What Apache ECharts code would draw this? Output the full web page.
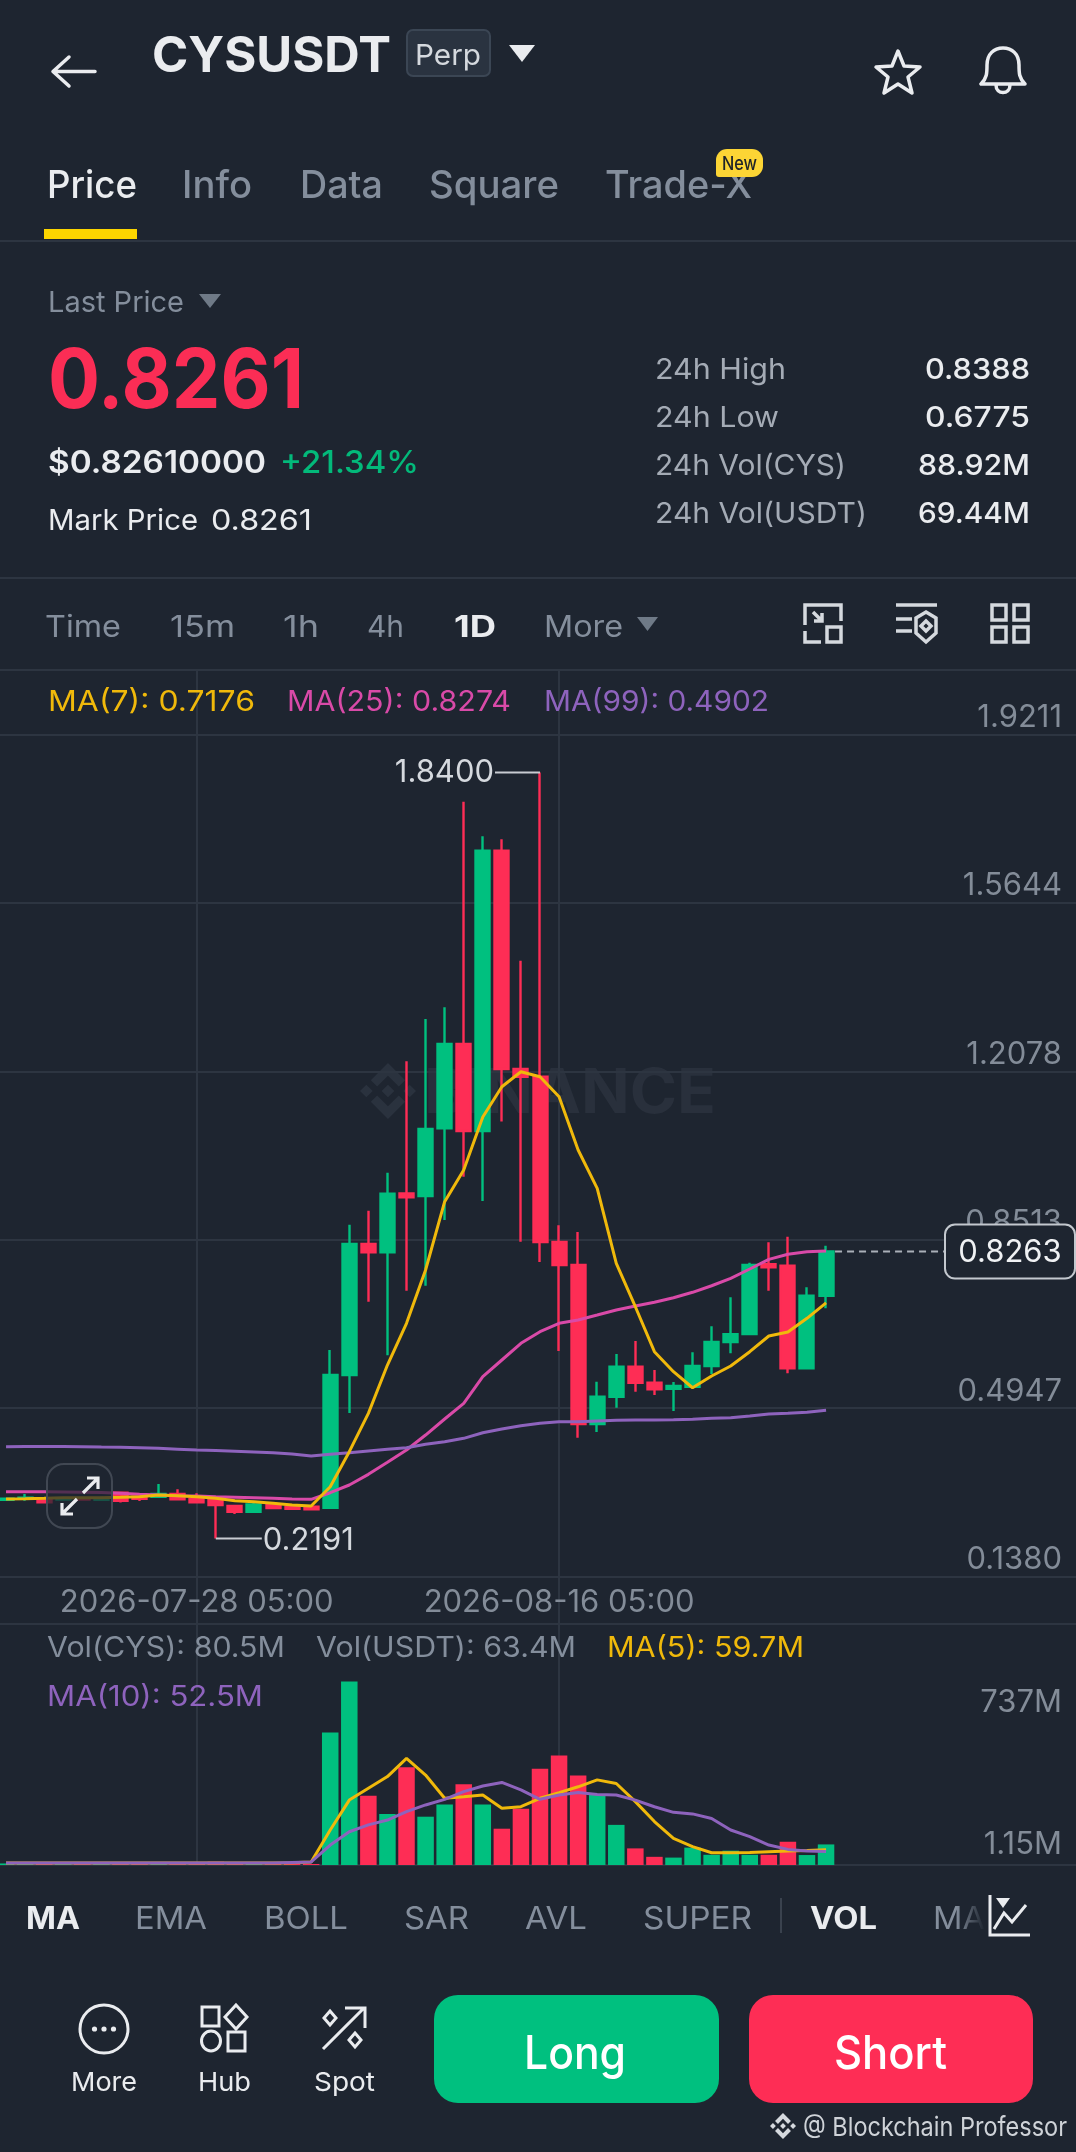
<!DOCTYPE html>
<html><head><meta charset="utf-8">
<script src="https://cdn.jsdelivr.net/npm/echarts@6/dist/echarts.min.js"></script>
<style>
html,body{margin:0;padding:0;background:#1e2530;width:1076px;height:2152px;overflow:hidden;font-family:Inter,"Noto Sans",sans-serif}
#chart{position:absolute;left:0;top:0;width:1076px;height:2152px;z-index:2}
#under,#over{position:absolute;left:0;top:0;width:1076px;height:2152px}
#under{z-index:1}#over{z-index:3}
.t{position:absolute;white-space:nowrap;line-height:1;transform-origin:left center}
.b{position:absolute;box-sizing:border-box}
svg{position:absolute;overflow:visible}
</style></head><body>
<div id="under"></div><div id="chart"></div><div id="over"></div>
<script>
const dates=['2026-07-18','2026-07-19','2026-07-20','2026-07-21','2026-07-22','2026-07-23','2026-07-24','2026-07-25','2026-07-26','2026-07-27','2026-07-28','2026-07-29','2026-07-30','2026-07-31','2026-08-01','2026-08-02','2026-08-03','2026-08-04','2026-08-05','2026-08-06','2026-08-07','2026-08-08','2026-08-09','2026-08-10','2026-08-11','2026-08-12','2026-08-13','2026-08-14','2026-08-15','2026-08-16','2026-08-17','2026-08-18','2026-08-19','2026-08-20','2026-08-21','2026-08-22','2026-08-23','2026-08-24','2026-08-25','2026-08-26','2026-08-27','2026-08-28','2026-08-29','2026-08-30'];
const emptySlots=13;
const labelledDates=['2026-07-28','2026-08-16'];
const priceTicks=[0.1380,0.4947,0.8513,1.2078,1.5644,1.9211];
const volTicks=[1.15,737];
const open=[.3010,.3045,.3040,.3015,.3040,.3010,.3158,.3073,.3073,.3131,.3018,.3031,.2876,.2756,.2898,.2862,.2862,.2840,.5649,.8422,.8246,.9495,.9438,1.0871,1.2656,1.0814,1.6747,1.2126,1.1963,.8465,.7978,.4612,.5190,.5825,.5486,.5359,.5402,.5840,.6348,.6517,.7993,.7963,.5791,.7328];
const close=[.3030,.3055,.2955,.3040,.3015,.3040,.2989,.3031,.3131,.3018,.2955,.2898,.2756,.2912,.2834,.2815,.2807,.5649,.8422,.8246,.9487,.9411,1.0856,1.2656,1.0814,1.6747,1.2126,1.1963,.8465,.7978,.4612,.5190,.5825,.5486,.5347,.5416,.5840,.6348,.6511,.7978,.7929,.5791,.7328,.8263];
const low=[.3000,.2990,.2940,.3000,.3005,.2990,.2950,.2985,.3060,.3010,.2935,.2191,.2707,.2740,.2825,.2805,.2795,.2840,.4845,.7201,.6066,.7434,.7539,.8930,.9847,.9332,1.1015,.8471,.8041,.6157,.4322,.4443,.4957,.5296,.5226,.4887,.5402,.5671,.6109,.6517,.7434,.5685,.5780,.7061];
const high=[.3050,.3130,.3050,.3060,.3060,.3080,.3180,.3100,.3342,.3230,.3145,.3045,.2890,.2967,.2905,.2875,.2870,.6179,.8831,.9127,.9931,1.2289,1.3185,1.3432,1.7784,1.7052,1.6988,1.4419,1.8400,.8818,.8676,.5507,.6094,.6369,.5755,.5501,.6130,.6680,.7294,.8026,.8458,.8577,.7506,.8388];
const ma7=[.3025,.3030,.3039,.3050,.3050,.3050,.3061,.3075,.3109,.3095,.3073,.3039,.2990,.2967,.2934,.2898,.2876,.3285,.4026,.4838,.5861,.6744,.7872,.9318,.9989,1.1110,1.1752,1.2069,1.1963,1.1540,1.0412,.9601,.8014,.7095,.6143,.5719,.5380,.5628,.5840,.6143,.6475,.6560,.6849,.7176];
const ma25=[.3179,.3179,.3179,.3175,.3170,.3160,.3145,.3125,.3109,.3095,.3088,.3070,.3060,.3050,.3039,.3025,.3018,.3158,.3321,.3547,.3801,.4062,.4379,.4718,.5050,.5613,.5967,.6320,.6566,.6744,.6814,.6919,.7025,.7110,.7188,.7286,.7400,.7539,.7696,.7893,.8098,.8204,.8259,.8274];
const ma99=[.4132,.4135,.4135,.4135,.4132,.4125,.4120,.4110,.4098,.4080,.4062,.4050,.4035,.4020,.4005,.3975,.3935,.3971,.4005,.4041,.4077,.4110,.4182,.4237,.4309,.4428,.4506,.4576,.4627,.4661,.4661,.4676,.4691,.4697,.4697,.4703,.4711,.4733,.4745,.4781,.4824,.4838,.4860,.4902];
const volume=[6,5,7,4,4,4,6,5,4,7,5,13,5,5,4,4,4,518,718,271,200,382,189,237,316,237,142,220,377,428,350,274,157,65,32,29,68,40,56,40,40,91,39,80.5];
const volMa5=[8,8,8,8,8,8,8,8,8,8,8,8,8,8,8,9,12,137,254,300,346,417,352,261,267,274,222,228,261,283,306,333,319,248,170,104,72,48,48,49,52,55,57,59.7];
const volMa10=[8,8,8,8,8,8,8,8,8,8,8,8,8,8,8,10,12,78,130,157,176,209,235,257,287,309,323,294,257,274,284,276,274,254,228,206,200,182,137,111,78,61,55,52.5];
const maxMark=[28,1.8400], minMark=[11,0.2191], lastMark=[43,0.8263];

const GREEN='#00c07f',RED='#fe2d55',GRID='#2d3541',LBL='#838c98';
const categories=dates.concat(new Array(emptySlots).fill(''));
const labelIdx=labelledDates.map(d=>dates.indexOf(d));
const showIdx=(i)=>labelIdx.includes(i);
const xBase={type:'category',data:categories,boundaryGap:true,axisTick:{show:false},
  axisLine:{show:true,lineStyle:{color:GRID,width:2}},
  splitLine:{show:true,alignWithLabel:true,interval:showIdx,lineStyle:{color:GRID,width:2}}};
const chart=echarts.init(document.getElementById('chart'),null,{renderer:'canvas',width:1076,height:2152});
chart.setOption({
  backgroundColor:'transparent',animation:false,
  grid:[{left:-3.5,top:671,width:1087,height:953,outerBoundsMode:'none'},{left:-3.5,top:1624,width:1087,height:241,outerBoundsMode:'none'}],
  xAxis:[
    Object.assign({},xBase,{gridIndex:0,axisLabel:{show:true,inside:true,interval:showIdx,margin:6,color:LBL,fontSize:31,fontFamily:'Inter',
      formatter:(v)=>v?v+' 05:00':''}}),
    Object.assign({},xBase,{gridIndex:1,axisLabel:{show:false}})
  ],
  yAxis:[
    {type:'value',gridIndex:0,position:'right',min:0.0379,max:2.0551,scale:true,
     axisLine:{show:false},axisTick:{show:false,customValues:priceTicks},
     splitLine:{show:true,lineStyle:{color:GRID,width:2}},
     axisLabel:{inside:true,margin:21.5,customValues:priceTicks,color:LBL,fontSize:31,fontFamily:'Inter',
       formatter:(v)=>'{a|'+v.toFixed(4)+'}',rich:{a:{color:LBL,fontSize:31,fontFamily:'Inter',padding:[0,0,34,0]}}}},
    {type:'value',gridIndex:1,position:'right',min:0,max:943,
     axisLine:{show:false},axisTick:{show:false,customValues:volTicks},splitLine:{show:false},
     axisLabel:{inside:true,margin:21.5,customValues:volTicks,color:LBL,fontSize:31,fontFamily:'Inter',
       formatter:(v)=>v>100?'{t|'+v+'M}':'{b|'+v+'M}',
       rich:{t:{color:LBL,fontSize:31,fontFamily:'Inter',padding:[52,0,0,0]},b:{color:LBL,fontSize:31,fontFamily:'Inter',padding:[0,0,40,0]}}}}
  ],
  series:[
    {name:'K',type:'candlestick',xAxisIndex:0,yAxisIndex:0,barWidth:14.5,z:2,
     data:open.map((o,i)=>[o,close[i],low[i],high[i]]),
     itemStyle:{color:GREEN,color0:RED,borderColor:GREEN,borderColor0:RED,borderWidth:2.4}},
    {name:'MA(25)',type:'line',xAxisIndex:0,yAxisIndex:0,data:ma25,showSymbol:false,z:3,lineStyle:{color:'#d94aa8',width:3}},
    {name:'MA(99)',type:'line',xAxisIndex:0,yAxisIndex:0,data:ma99,showSymbol:false,z:3,lineStyle:{color:'#8e63bd',width:3}},
    {name:'MA(7)',type:'line',xAxisIndex:0,yAxisIndex:0,data:ma7,showSymbol:false,z:4,lineStyle:{color:'#f0b90b',width:3}},
    {name:'Marks',type:'custom',xAxisIndex:0,yAxisIndex:0,z:6,clip:false,silent:true,
     encode:{x:0,y:1},
     data:[[maxMark[0],maxMark[1],0],[minMark[0],minMark[1],1],[lastMark[0],lastMark[1],2]],
     renderItem:(p,api)=>{
       const pt=api.coord([api.value(0),api.value(1)]),k=api.value(2),val=api.value(1).toFixed(4);
       const sty={stroke:'#c8ccd2',lineWidth:2};
       const font={fontSize:31,fontFamily:'Inter'};
       if(k===0)return{type:'group',children:[
         {type:'line',shape:{x1:pt[0],y1:pt[1],x2:pt[0]-45,y2:pt[1]},style:sty},
         {type:'text',style:Object.assign({text:val,x:pt[0]-46,y:pt[1],align:'right',verticalAlign:'middle',fill:'#d5d9de'},font)}]};
       if(k===1)return{type:'group',children:[
         {type:'line',shape:{x1:pt[0],y1:pt[1],x2:pt[0]+46,y2:pt[1]},style:sty},
         {type:'text',style:Object.assign({text:val,x:pt[0]+47,y:pt[1]+2,align:'left',verticalAlign:'middle',fill:'#d5d9de'},font)}]};
       return{type:'group',children:[
         {type:'line',shape:{x1:pt[0]+9,y1:pt[1],x2:945,y2:pt[1]},style:{stroke:'#aab0b8',lineWidth:2,lineDash:[7,5]}},
         {type:'rect',shape:{x:945,y:pt[1]-27,width:130,height:54,r:10},style:{fill:'#1e2530',stroke:'#c3c8ce',lineWidth:2}},
         {type:'text',style:Object.assign({text:val,x:1010,y:pt[1]+1,align:'center',verticalAlign:'middle',fill:'#f0f2f4'},font)}]};
     }},
    {name:'Vol',type:'bar',xAxisIndex:1,yAxisIndex:1,barWidth:16.5,z:2,
     data:volume.map((v,i)=>({value:v,itemStyle:{color:close[i]>=open[i]?GREEN:RED}}))},
    {name:'MA(5)',type:'line',xAxisIndex:1,yAxisIndex:1,data:volMa5,showSymbol:false,z:3,lineStyle:{color:'#f0b90b',width:3}},
    {name:'MA(10)',type:'line',xAxisIndex:1,yAxisIndex:1,data:volMa10,showSymbol:false,z:4,lineStyle:{color:'#8e63bd',width:3}}
  ]
});

/* app chrome around the chart */
const over=document.getElementById('over'),under=document.getElementById('under');
function T(s,x0,x1,cy,size,weight,color,parent){
  const d=document.createElement('div');d.className='t';d.textContent=s;
  d.style.cssText+=`left:${x0}px;top:${cy-size/2}px;font-size:${size}px;font-weight:${weight};color:${color}`;
  (parent||over).appendChild(d);
  const w=d.getBoundingClientRect().width;
  d.style.transform=`scaleX(${(x1-x0)/w})`;
  return d;
}
function B(x,y,w,h,css,parent){const d=document.createElement('div');d.className='b';
  d.style.cssText+=`left:${x}px;top:${y}px;width:${w}px;height:${h}px;${css}`;(parent||over).appendChild(d);return d;}
function S(x,y,w,h,vb,inner){const n=document.createElementNS('http://www.w3.org/2000/svg','svg');
  n.setAttribute('viewBox',vb);n.setAttribute('width',w);n.setAttribute('height',h);n.style.left=x+'px';n.style.top=y+'px';n.innerHTML=inner;over.appendChild(n);return n;}
const WH='#eaecef',GR='#848e9c',GR2='#a4abb5';
const LOGO='M16.624 13.9202l2.7175 2.7154-7.353 7.353-7.353-7.352 2.7175-2.7164 4.6355 4.6595 4.6356-4.6595zm4.6366-4.6366L24 12l-2.7154 2.7164L18.5682 12l2.6924-2.7164zm-9.272.001l2.7163 2.6914-2.7164 2.7174v-.001L9.2721 12l2.7164-2.7154zm-9.2722-.001L5.4088 12l-2.6914 2.6924L0 12l2.7164-2.7164zM11.9885.0115l7.353 7.329-2.7174 2.7154-4.6356-4.6356-4.6355 4.6595-2.7174-2.7154 7.353-7.353z';

// header
S(51,55,45,33,'0 0 45 33','<path d="M18 2 L2 16.5 L18 31 M2 16.5 H44" fill="none" stroke="#eaecef" stroke-width="3.5" stroke-linecap="round" stroke-linejoin="round"/>');
T('CYSUSDT',152,391,54,50,700,WH);
B(406,29,85,48,'background:#2a3340;border:2px solid #3b4654;border-radius:7px');
T('Perp',415,481,54,29,400,'#d5d9de');
S(509,45,26,17,'0 0 26 17','<path d="M0 0H26L13 17Z" fill="#eaecef"/>');
S(873,48,50,48,'0 0 50 48','<path d="M25 3 L31 18 L47 19 L35 29 L39 45 L25 36 L11 45 L15 29 L3 19 L19 18 Z" fill="none" stroke="#eaecef" stroke-width="3.5" stroke-linejoin="round"/>');
S(978,45,50,52,'0 0 50 52','<path d="M3 39 H47 C41 33 41 28 41 20 C41 9 34 3 25 3 C16 3 9 9 9 20 C9 28 9 33 3 39 Z M18 40 C18 50 32 50 32 40" fill="none" stroke="#eaecef" stroke-width="3.5" stroke-linejoin="round"/>');
// tabs
T('Price',47,137,184,38,500,WH);
T('Info',182,252,184,38,500,GR);
T('Data',300,383,184,38,500,GR);
T('Square',429,559,184,38,500,GR);
T('Trade-X',605,752,184,38,500,GR);
B(716,149,47,28,'background:#fcd535;border-radius:11px 11px 11px 3px');
T('New',722,757,163,19,500,'#1e2329');
B(44,229,93,10,'background:#fcd500');
B(0,240,1076,2,'background:#2d3541');
// price block
T('Last Price',48,184,301,29,400,GR);
S(199,294,22,14,'0 0 22 14','<path d="M0 0H22L11 14Z" fill="#6f7a87"/>');
T('0.8261',48,304,379,82,700,'#fb2d55');
T('$0.82610000',48,266,461,31,600,WH);
T('+21.34%',280,419,461,31,500,'#03b97a');
T('Mark Price',48,198,519,29,400,WH);
T('0.8261',211,312,519,29,400,WH);
[['24h High',786,'0.8388',925,368],['24h Low',779,'0.6775',925,416],['24h Vol(CYS)',846,'88.92M',918,464],['24h Vol(USDT)',867,'69.44M',918,512]].forEach(r=>{
  T(r[0],655,r[1],r[4],29,400,GR2);T(r[2],r[3],1030,r[4],29,500,WH);});
B(0,577,1076,2,'background:#2d3541');
// intervals
T('Time',45,121,626,30,400,GR);T('15m',170,235,626,30,400,GR);T('1h',283,319,626,30,400,GR);T('4h',367,404,626,30,400,GR);
T('1D',454,496,626,30,700,WH);T('More',544,623,626,30,400,GR);
S(637,617,21,14,'0 0 21 14','<path d="M0 0H21L10.5 14Z" fill="#6f7a87"/>');
S(803,603,40,41,'0 0 40 41','<g fill="none" stroke="#d5d9de" stroke-width="3.5"><path d="M2 22V2H38V18M2 28V39H18"/><rect x="24" y="24" width="14" height="15"/><path d="M10 9L19 18M19 10V18H11"/></g>');
S(896,603,41,41,'0 0 41 41','<g fill="none" stroke="#d5d9de" stroke-width="3.5"><path d="M0 2H41M0 16H16M0 28H16"/><path d="M30 9L40 15V30L30 39L20 30V15Z"/><path d="M30 18L35 23L30 28L25 23Z"/></g>');
S(990,603,40,41,'0 0 40 41','<g fill="none" stroke="#d5d9de" stroke-width="3.5"><rect x="2" y="2" width="14" height="15"/><rect x="24" y="2" width="14" height="15"/><rect x="2" y="24" width="14" height="15"/><rect x="24" y="24" width="14" height="15"/></g>');
B(0,669,1076,2,'background:#2d3541');
// MA legend
T('MA(7): 0.7176',48,255,700,29,400,'#f0b90b');
T('MA(25): 0.8274',287,511,700,29,400,'#d94aa8');
T('MA(99): 0.4902',544,769,700,29,400,'#8e63bd');
// watermark
const wm=document.createElementNS('http://www.w3.org/2000/svg','svg');wm.setAttribute('viewBox','0 0 24 24');wm.setAttribute('width',56);wm.setAttribute('height',56);
wm.style.left='360px';wm.style.top='1063px';wm.innerHTML='<path d="'+LOGO+'" fill="#2a323e"/>';under.appendChild(wm);
T('BINANCE',424,716,1091,62,700,'#29303c',under);
// expand button
B(46,1463,67,66,'background:rgba(30,37,48,.72);border:2px solid #414853;border-radius:18px');
S(58,1474,44,44,'0 0 44 44','<path d="M25 19L39 5M29 4H40V15M19 25L5 39M4 29V40H15" fill="none" stroke="#eaecef" stroke-width="3.2"/>');
// volume legend
T('Vol(CYS): 80.5M',47,285,1647,28,400,GR);
T('Vol(USDT): 63.4M',316,576,1647,28,400,GR);
T('MA(5): 59.7M',607,804,1647,28,400,'#f0b90b');
T('MA(10): 52.5M',47,263,1696,28,400,'#8e63bd');
// indicators
T('MA',26,80,1917,31,700,WH);T('EMA',135,207,1917,31,400,GR);T('BOLL',264,348,1917,31,400,GR);T('SAR',404,469,1917,31,400,GR);
T('AVL',525,587,1917,31,400,GR);T('SUPER',643,752,1917,31,400,GR);
B(780,1898,1.5,35,'background:#3a424e');
T('VOL',810,877,1917,31,700,WH);
const m=T('MA',933,985,1917,31,400,GR);m.style.webkitMaskImage='linear-gradient(to right,#000 45%,transparent)';
S(988,1895,42,42,'0 0 42 42','<g fill="none" stroke="#eaecef" stroke-width="3"><path d="M2 0V40H42M6 34L16 18L24 27L38 10"/></g><path d="M8 3H22L15 13Z" fill="#eaecef"/>');
// bottom bar
S(79,2003,50,52,'0 0 50 52','<circle cx="25" cy="26" r="24" fill="none" stroke="#eaecef" stroke-width="3"/><circle cx="15.5" cy="26" r="2.6" fill="#eaecef"/><circle cx="25" cy="26" r="2.6" fill="#eaecef"/><circle cx="34.5" cy="26" r="2.6" fill="#eaecef"/>');
T('More',71,137,2082,26,400,WH);
S(200,2003,48,50,'0 0 48 50','<g fill="none" stroke="#eaecef" stroke-width="3"><rect x="2" y="4" width="17" height="19"/><path d="M36 2L47 14L36 26L25 14Z"/><ellipse cx="11" cy="38" rx="9.5" ry="10"/><rect x="28" y="29" width="17" height="19"/></g>');
T('Hub',198,251,2082,26,400,WH);
S(321,2005,46,46,'0 0 46 46','<g fill="none" stroke="#eaecef" stroke-width="3"><path d="M2 44L42 4M24 3H44V23"/><path d="M9 6L15 13L9 20L3 13Z"/><path d="M34 28L40 35L34 42L28 35Z"/></g>');
T('Spot',314,375,2082,26,400,WH);
B(434,1995,285,108,'background:#00c07f;border-radius:24px');
T('Long',524,626,2052,46,500,'#fff');
B(749,1995,284,108,'background:#fe2d55;border-radius:24px');
T('Short',834,947,2052,46,500,'#fff');
S(770,2113,26,26,'0 0 24 24','<path d="'+LOGO+'" fill="#d5d9de"/>');
T('@ Blockchain Professor',803,1067,2127,26,400,'#cfd3d8');
</script>
</body></html>
